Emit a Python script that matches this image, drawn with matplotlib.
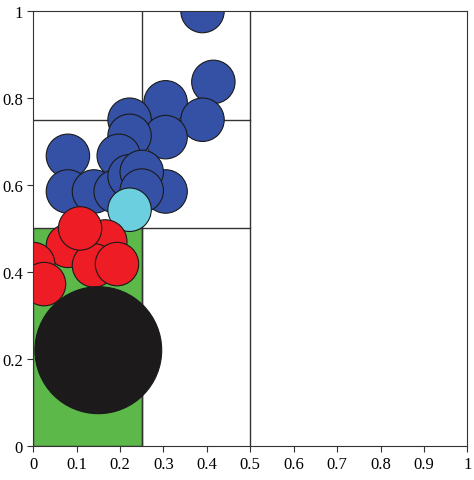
import matplotlib.pyplot as plt
from matplotlib.patches import Circle, Rectangle

# circle centres (x, y)
blue_x = [0.39, 0.415, 0.305, 0.39, 0.222, 0.305, 0.222, 0.08, 0.197, 0.08, 0.14, 0.19, 0.305, 0.222, 0.25, 0.25]
blue_y = [1.0, 0.837, 0.79, 0.75, 0.75, 0.71, 0.713, 0.667, 0.667, 0.585, 0.585, 0.585, 0.585, 0.62, 0.63, 0.587]
cyan_x = [0.222]
cyan_y = [0.543]
red_x = [0.08, 0.166, 0.0, 0.025, 0.14, 0.193, 0.108]
red_y = [0.46, 0.47, 0.418, 0.372, 0.415, 0.418, 0.5]
black_x = [0.15]
black_y = [0.22]
r_small = 0.05
r_big = 0.146

plt.rcParams['font.family'] = ['Liberation Serif', 'DejaVu Serif']
fig = plt.figure(figsize=(4.74, 4.81), dpi=100)
ax = fig.add_axes([0.07, 0.071, 0.916, 0.904])

ax.add_patch(Rectangle((0, 0), 0.25, 0.5, facecolor='#5db84a', edgecolor='#333333', lw=1, zorder=1))
ax.plot([0.25, 0.25], [0, 1], color='#333333', lw=1, zorder=1)
ax.plot([0.5, 0.5], [0, 1], color='#333333', lw=1, zorder=1)
ax.plot([0, 0.5], [0.75, 0.75], color='#333333', lw=1, zorder=1)
ax.plot([0.25, 0.5], [0.5, 0.5], color='#333333', lw=1, zorder=1)

def draw(xs, ys, r, color):
    for x, y in zip(xs, ys):
        ax.add_patch(Circle((x, y), r, facecolor=color, edgecolor='#1a1a1a', lw=0.8, zorder=2))

draw(blue_x, blue_y, r_small, '#3551a6')
draw(cyan_x, cyan_y, r_small, '#6ccfdf')
draw(red_x, red_y, r_small, '#ee1c24')
draw(black_x, black_y, r_big, '#1c1a1a')

ax.set_xlim(0, 1)
ax.set_ylim(0, 1)
ax.set_xticks([i / 10 for i in range(11)])
ax.set_xticklabels(['0', '0.1', '0.2', '0.3', '0.4', '0.5', '0.6', '0.7', '0.8', '0.9', '1'])
ax.set_yticks([0, 0.2, 0.4, 0.6, 0.8, 1])
ax.set_yticklabels(['0', '0.2', '0.4', '0.6', '0.8', '1'])
ax.tick_params(labelsize=12, direction='out', length=4, color='#333333')
for s in ax.spines.values():
    s.set_color('#333333')

fig.savefig('out.png', dpi=100)
